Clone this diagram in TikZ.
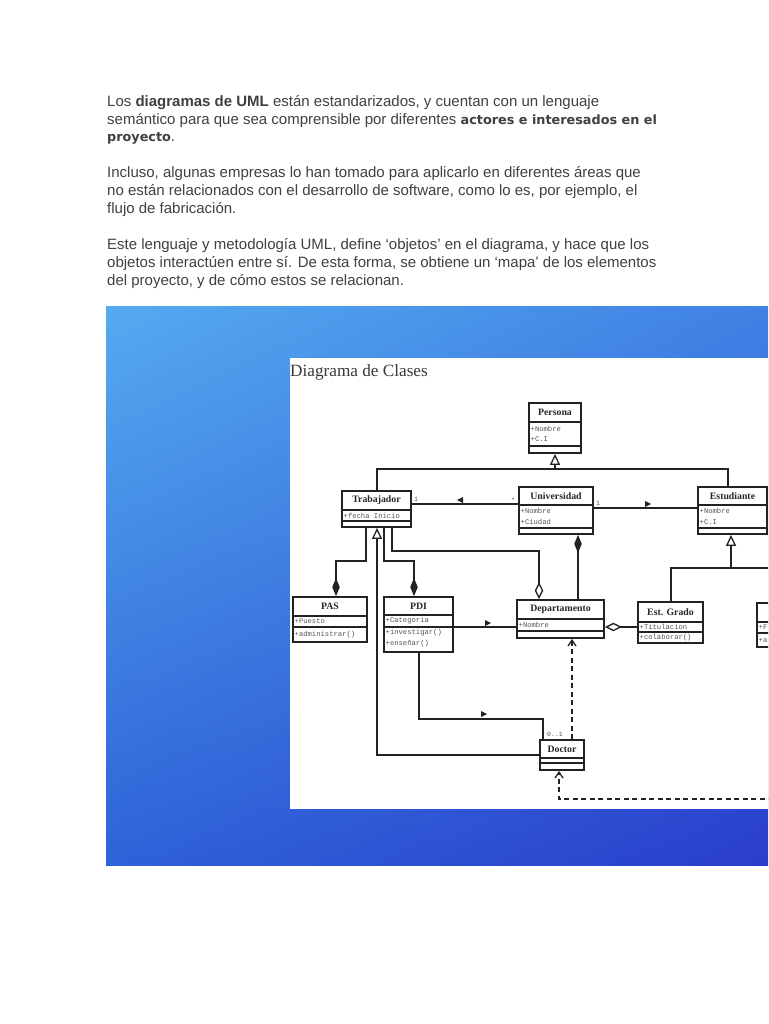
\documentclass[tikz,border=0pt]{standalone}
\usepackage{fontspec}
\setmainfont{Liberation Sans}
\newfontfamily\serifff{Liberation Serif}
\newfontfamily\monoff{Liberation Mono}
\newfontfamily\dejavu{DejaVu Sans}
\usetikzlibrary{arrows.meta,fit,shadows,shadings}
\definecolor{txt}{HTML}{404040}
\definecolor{linec}{HTML}{222222}
\definecolor{attrc}{HTML}{555555}
\definecolor{bgA}{HTML}{55AAF0}
\definecolor{bgB}{HTML}{3F80E4}
\definecolor{bgC}{HTML}{2E62D8}
\definecolor{bgD}{HTML}{2A3CCB}
\tikzset{
  para/.style={anchor=base west, inner sep=0, text=txt, font=\fontsize{15}{17}\selectfont},
  clsbox/.style={draw=linec, line width=1.8pt, fill=white, inner sep=0, minimum size=0,
    drop shadow={shadow xshift=1.2pt, shadow yshift=-1.2pt, opacity=.3}},
  clsline/.style={draw=linec, line width=1.2pt},
  clstitle/.style={inner sep=0, font=\serifff\bfseries\fontsize{9.8}{10}\selectfont, text=black!85},
  attr/.style={anchor=west, inner sep=0, font=\monoff\fontsize{7.2}{8}\selectfont, text=attrc},
  mult/.style={inner sep=0, font=\monoff\fontsize{6.5}{7}\selectfont, text=attrc},
  conn/.style={draw=linec, line width=1.3pt},
  gen/.style={conn, -{Triangle[open, length=11pt, width=10pt, fill=white]}},
  comp/.style={conn, -{Diamond[length=18pt, width=7.5pt]}},
  aggr/.style={conn, -{Diamond[open, length=17pt, width=8.5pt, fill=white]}},
  dep/.style={conn, dash pattern=on 5pt off 3.5pt, -{Straight Barb[length=6pt, width=8pt]}},
}
\newcommand\umlcls[8]{%
  \coordinate (#1-a) at (#2,#3);
  \coordinate (#1-b) at (#4,#5);
  \node[clsbox, fit=(#1-a)(#1-b)] (#1) {};
  \draw[clsline] (#2,#6) -- (#4,#6);
  \draw[clsline] (#2,#7) -- (#4,#7);
  \node[clstitle] (#1-t) at ({(#2+#4)/2},{(#3+#6)/2}) {#8};
}
\begin{document}
\begin{tikzpicture}[x=1pt,y=-1pt]
\useasboundingbox (0,0) rectangle (768,1024);
\fill[white] (0,0) rectangle (768,1024);
\begin{scope}
\clip (0,0) rectangle (768,1024);
% text
\node[para] (p1) at (107,107) {Los \textbf{diagramas de UML} están estandarizados, y cuentan con un lenguaje};
\node[para] (p2) at (107,124.5) {semántico para que sea comprensible por diferentes {\dejavu\bfseries\fontsize{12.8}{17}\selectfont actores e interesados en el}};
\node[para] (p3) at (107,142) {{\dejavu\bfseries\fontsize{12.8}{17}\selectfont proyecto}.};
\node[para] (p4) at (107,178) {Incluso, algunas empresas lo han tomado para aplicarlo en diferentes áreas que};
\node[para] (p5) at (107,196) {no están relacionados con el desarrollo de software, como lo es, por ejemplo, el};
\node[para] (p6) at (107,214) {flujo de fabricación.};
\node[para] (p7) at (107,249) {Este lenguaje y metodología UML, define ‘objetos’ en el diagrama, y hace que los};
\node[para] (p8) at (107,267) {objetos interactúen entre sí. De esta forma, se obtiene un ‘mapa’ de los elementos};
\node[para] (p9) at (107,285) {del proyecto, y de cómo estos se relacionan.};
% background panels
\shade[upper left=bgA, upper right=bgB, lower left=bgC, lower right=bgD] (106,306) rectangle (790,865);
\fill[white] (290,358) rectangle (790,809);
\node[anchor=base west, inner sep=0, text=black!78, font=\serifff\fontsize{17.2}{18}\selectfont] (title) at (290,376) {Diagrama de Clases};
% classes
\umlcls{persona}{529}{403}{581}{453}{422}{446}{Persona}
\node[attr] at (530.5,428.5) {+Nombre};
\node[attr] at (530.5,439.5) {+C.I};
\umlcls{trab}{342}{491}{411}{527}{510}{521}{Trabajador}
\node[attr] at (343.5,515.5) {+fecha Inicio};
\umlcls{univ}{519}{487}{593}{534}{505}{528}{Universidad}
\node[attr] at (520.5,511) {+Nombre};
\node[attr] at (520.5,522) {+Ciudad};
\umlcls{estud}{698}{487}{767}{534}{505}{528}{Estudiante}
\node[attr] at (699.5,511) {+Nombre};
\node[attr] at (699.5,522) {+C.I};
\umlcls{pas}{293}{597}{367}{642}{616}{627}{PAS}
\node[attr] at (294.5,621.5) {+Puesto};
\node[attr] at (294.5,634.5) {+administrar()};
\umlcls{pdi}{384}{597}{453}{652}{615}{627}{PDI}
\node[attr] at (385.5,621) {+Categoria};
\node[attr] at (385.5,633) {+investigar()};
\node[attr] at (385.5,644) {+enseñar()};
\umlcls{depto}{517}{600}{604}{638}{619}{631}{Departamento}
\node[attr] at (518.5,625) {+Nombre};
\umlcls{estgr}{638}{602}{703}{643}{622}{632}{Est. Grado}
\node[attr] at (639.5,627) {+Titulacion};
\node[attr] at (639.5,637.5) {+colaborar()};
\umlcls{cutbox}{757}{603}{820}{647}{622}{633}{}
\node[attr] at (758.5,627.5) {+F};
\node[attr] at (758.5,640) {+a};
\umlcls{doctor}{540}{740}{584}{770}{758}{763}{Doctor}
% connectors
\coordinate (genjoin) at (555,469);
\draw[gen] (trab.north -| 377,0) |- (genjoin) -- (persona.south);
\draw[conn] (estud.north -| 728,0) |- (genjoin);
\draw[conn] (trab.east |- 0,504) -- (univ.west |- 0,504);
\node[mult] at (416,499) {1};
\node[mult] at (513,500) {*};
\fill[linec] (457,500) -- (463,497) -- (463,503) -- cycle;
\draw[conn] (univ.east |- 0,508) -- (estud.west |- 0,508);
\node[mult] at (598,503.5) {1};
\fill[linec] (651,504) -- (645,501) -- (645,507) -- cycle;
\draw[comp] (depto.north -| 578,0) -- (univ.south -| 578,0);
\draw[aggr] (trab.south -| 392,0) |- (539,551) -- (depto.north -| 539,0);
\draw[comp] (trab.south -| 366,0) |- (336,561) -- (pas.north -| 336,0);
\draw[comp] (trab.south -| 384,0) |- (414,561) -- (pdi.north -| 414,0);
\draw[gen] (doctor.west |- 0,755) -| (trab.south -| 377,0);
\draw[conn] (pdi.east |- 0,627) -- (depto.west |- 0,627);
\fill[linec] (491,623) -- (485,620) -- (485,626) -- cycle;
\draw[conn] (pdi.south -| 419,0) |- (543,719) -- (doctor.north -| 543,0);
\fill[linec] (487,714) -- (481,711) -- (481,717) -- cycle;
\node[mult] at (555,734) {0..1};
\draw[aggr] (estgr.west |- 0,627) -- (depto.east |- 0,627);
\coordinate (estjoin) at (731,568);
\draw[gen] (estgr.north -| 671,0) |- (estjoin) -- (estud.south -| 731,0);
\coordinate (estright) at (790,568);
\draw[conn] (estjoin) -- (estright);
\draw[dep] (doctor.north -| 572,0) -- (depto.south -| 572,0);
\coordinate (depright) at (790,799);
\draw[dep] (depright) -| (doctor.south -| 559,0);
\end{scope}
\end{tikzpicture}
\end{document}
